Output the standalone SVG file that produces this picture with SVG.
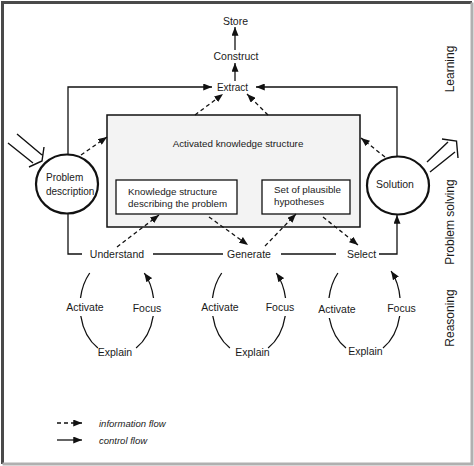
<svg xmlns="http://www.w3.org/2000/svg" width="474" height="466" viewBox="0 0 474 466">
<style>
text{font-family:"Liberation Sans",Arial,sans-serif;font-size:10.5px;fill:#1a1a1a}
.c{text-anchor:middle}
.lbl{font-size:12px}
.it{font-style:italic;font-size:9.5px}
.ln{fill:none;stroke:#111;stroke-width:1.3}
.ds{fill:none;stroke:#111;stroke-width:1.3;stroke-dasharray:4 3}
.nd{fill:#fff;stroke:#111;stroke-width:2.2}
.bx{fill:#fff;stroke:#111;stroke-width:1.3}
.ho{fill:none;stroke:#111;stroke-width:1.4}
</style>
<defs>
<marker id="ah" viewBox="0 0 10 8" refX="10" refY="4" markerWidth="9" markerHeight="7" markerUnits="userSpaceOnUse" orient="auto"><path d="M0,0 L10,4 L0,8 z" fill="#111"/></marker>
</defs>
<rect x="0" y="0" width="474" height="466" fill="#fff"/>
<path d="M2.5,464 V2.5 H472" fill="none" stroke="#4a4a4a" stroke-width="3"/>
<path d="M472,2.5 V464 H2.5" fill="none" stroke="#b0b0b0" stroke-width="3"/>

<g id="akstructure">
<rect x="107" y="115" width="253" height="112" fill="#f3f3f3" stroke="#111" stroke-width="1.5"/>
<text class="c" x="238" y="147" style="font-size:9.8px">Activated knowledge structure</text>
</g>
<g id="ksdesc">
<rect class="bx" x="116" y="180" width="121" height="34"/>
<text x="128" y="195" style="font-size:9.8px">Knowledge structure</text>
<text x="128" y="207" style="font-size:9.8px">describing the problem</text>
</g>
<g id="hypotheses">
<rect class="bx" x="262" y="180" width="88" height="34"/>
<text x="274" y="193" style="font-size:9.8px">Set of plausible</text>
<text x="274" y="205" style="font-size:9.8px">hypotheses</text>
</g>
<g id="problem">
<ellipse class="nd" cx="67" cy="184" rx="31" ry="29.5"/>
<text x="46" y="181" style="font-size:10px">Problem</text>
<text x="46" y="195" style="font-size:10px">description</text>
</g>
<g id="solution">
<ellipse class="nd" cx="398" cy="185.5" rx="31" ry="29"/>
<text class="c" x="395" y="188">Solution</text>
</g>
<g id="store"><text class="c" x="235.5" y="25">Store</text></g>
<g id="construct"><text class="c" x="236" y="60">Construct</text></g>
<g id="extract"><text class="c" x="232.5" y="91" style="font-size:10px">Extract</text></g>
<g id="understand"><text class="c" x="117" y="258">Understand</text></g>
<g id="generate"><text class="c" x="249" y="258">Generate</text></g>
<g id="select"><text class="c" x="361.5" y="258">Select</text></g>

<g id="cycle1">
<text class="c" x="85" y="311">Activate</text>
<text class="c" x="147" y="312">Focus</text>
<text class="c" x="115" y="356">Explain</text>
</g>
<g id="cycle2">
<text class="c" x="220" y="311">Activate</text>
<text class="c" x="280" y="311">Focus</text>
<text class="c" x="252.5" y="356">Explain</text>
</g>
<g id="cycle3">
<text class="c" x="337" y="313">Activate</text>
<text class="c" x="401.5" y="312">Focus</text>
<text class="c" x="365.5" y="355">Explain</text>
</g>

<g id="levels">
<text class="c lbl" transform="translate(454,69) rotate(-90)">Learning</text>
<text class="c lbl" transform="translate(454,222) rotate(-90)">Problem solving</text>
<text class="c lbl" transform="translate(454,318) rotate(-90)">Reasoning</text>
</g>

<g id="connectors">
<path class="ln" d="M235,81 V63" marker-end="url(#ah)"/>
<path class="ln" d="M235,50 V27" marker-end="url(#ah)"/>
<path class="ln" d="M68,154.5 V87 H212" marker-end="url(#ah)"/>
<path class="ln" d="M397,156.5 V87 H256" marker-end="url(#ah)"/>
<path class="ds" d="M195,115 L223,94" marker-end="url(#ah)"/>
<path class="ds" d="M268,115 L247,94" marker-end="url(#ah)"/>
<path class="ds" d="M81,155 L107,137" marker-end="url(#ah)"/>
<path class="ds" d="M385,157 L361,138" marker-end="url(#ah)"/>
<path class="ln" d="M68,213.5 V254 H82"/>
<path class="ln" d="M153,254 H223"/>
<path class="ln" d="M281,254 H336"/>
<path class="ln" d="M379,254 H397 V215" marker-end="url(#ah)"/>
<path class="ds" d="M117,247 L159,215" marker-end="url(#ah)"/>
<path class="ds" d="M209,217 L248,245" marker-end="url(#ah)"/>
<path class="ds" d="M265,246 L296,214" marker-end="url(#ah)"/>
<path class="ds" d="M323,217 L358,245" marker-end="url(#ah)"/>

<path class="ln" d="M89.7,273 A37,49 0 0 0 80.5,298"/>
<path class="ln" d="M80.8,316 A37,49 0 0 0 97.9,348"/>
<path class="ln" d="M136.1,348 A37,49 0 0 0 153.2,316"/>
<path class="ln" d="M153.5,298 A37,49 0 0 0 144.3,273" marker-end="url(#ah)"/>

<path class="ln" d="M221.7,273 A37,49 0 0 0 212.5,298"/>
<path class="ln" d="M212.8,316 A37,49 0 0 0 229.9,348"/>
<path class="ln" d="M268.1,348 A37,49 0 0 0 285.2,316"/>
<path class="ln" d="M285.5,298 A37,49 0 0 0 276.3,273" marker-end="url(#ah)"/>

<path class="ln" d="M337.9,273 A36,49 0 0 0 329,298"/>
<path class="ln" d="M329.3,318 A36,49 0 0 0 346,348"/>
<path class="ln" d="M383,348 A36,49 0 0 0 399.7,316"/>
<path class="ln" d="M400,298 A36,49 0 0 0 391.1,271" marker-end="url(#ah)"/>

<path class="ho" d="M17,134 L42,155 M8,143 L33,163 M44,147 L42,161 L29,167"/>
<path class="ho" d="M427,162 L448,142 M430,172 L455,152 M442,139 L456.5,141 L458,158"/>
</g>

<g id="legend">
<path class="ds" d="M57,423 H82" marker-end="url(#ah)"/>
<text class="it" x="99" y="427">information flow</text>
<path class="ln" d="M57,440 H82" marker-end="url(#ah)"/>
<text class="it" x="99" y="444">control flow</text>
</g>
</svg>
